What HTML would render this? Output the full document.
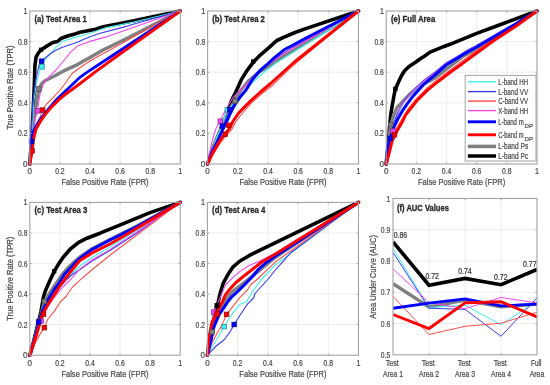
<!DOCTYPE html><html><head><meta charset="utf-8"><style>html,body{margin:0;padding:0;background:#fff;}svg{display:block;filter:blur(0.3px);font-family:"Liberation Sans",sans-serif;}</style></head><body>
<svg width="550" height="385" viewBox="0 0 550 385">
<rect width="550" height="385" fill="#fff"/><line x1="59.90" y1="11.0" x2="59.90" y2="164.0" stroke="#e9e9e9" stroke-width="0.8"/>
<line x1="29.8" y1="133.40" x2="180.3" y2="133.40" stroke="#e9e9e9" stroke-width="0.8"/>
<line x1="90.00" y1="11.0" x2="90.00" y2="164.0" stroke="#e9e9e9" stroke-width="0.8"/>
<line x1="29.8" y1="102.80" x2="180.3" y2="102.80" stroke="#e9e9e9" stroke-width="0.8"/>
<line x1="120.10" y1="11.0" x2="120.10" y2="164.0" stroke="#e9e9e9" stroke-width="0.8"/>
<line x1="29.8" y1="72.20" x2="180.3" y2="72.20" stroke="#e9e9e9" stroke-width="0.8"/>
<line x1="150.20" y1="11.0" x2="150.20" y2="164.0" stroke="#e9e9e9" stroke-width="0.8"/>
<line x1="29.8" y1="41.60" x2="180.3" y2="41.60" stroke="#e9e9e9" stroke-width="0.8"/>
<text x="29.80" y="174.30" font-size="8.5" font-weight="400" fill="#4a4a4a" stroke="#4a4a4a" stroke-width="0.22" text-anchor="middle" textLength="4.5" lengthAdjust="spacingAndGlyphs">0</text>
<text x="27.50" y="167.00" font-size="8.5" font-weight="400" fill="#4a4a4a" stroke="#4a4a4a" stroke-width="0.22" text-anchor="end" textLength="4.5" lengthAdjust="spacingAndGlyphs">0</text>
<text x="59.90" y="174.30" font-size="8.5" font-weight="400" fill="#4a4a4a" stroke="#4a4a4a" stroke-width="0.22" text-anchor="middle" textLength="9.5" lengthAdjust="spacingAndGlyphs">0.2</text>
<text x="27.50" y="136.40" font-size="8.5" font-weight="400" fill="#4a4a4a" stroke="#4a4a4a" stroke-width="0.22" text-anchor="end" textLength="9.5" lengthAdjust="spacingAndGlyphs">0.2</text>
<text x="90.00" y="174.30" font-size="8.5" font-weight="400" fill="#4a4a4a" stroke="#4a4a4a" stroke-width="0.22" text-anchor="middle" textLength="9.5" lengthAdjust="spacingAndGlyphs">0.4</text>
<text x="27.50" y="105.80" font-size="8.5" font-weight="400" fill="#4a4a4a" stroke="#4a4a4a" stroke-width="0.22" text-anchor="end" textLength="9.5" lengthAdjust="spacingAndGlyphs">0.4</text>
<text x="120.10" y="174.30" font-size="8.5" font-weight="400" fill="#4a4a4a" stroke="#4a4a4a" stroke-width="0.22" text-anchor="middle" textLength="9.5" lengthAdjust="spacingAndGlyphs">0.6</text>
<text x="27.50" y="75.20" font-size="8.5" font-weight="400" fill="#4a4a4a" stroke="#4a4a4a" stroke-width="0.22" text-anchor="end" textLength="9.5" lengthAdjust="spacingAndGlyphs">0.6</text>
<text x="150.20" y="174.30" font-size="8.5" font-weight="400" fill="#4a4a4a" stroke="#4a4a4a" stroke-width="0.22" text-anchor="middle" textLength="9.5" lengthAdjust="spacingAndGlyphs">0.8</text>
<text x="27.50" y="44.60" font-size="8.5" font-weight="400" fill="#4a4a4a" stroke="#4a4a4a" stroke-width="0.22" text-anchor="end" textLength="9.5" lengthAdjust="spacingAndGlyphs">0.8</text>
<text x="180.30" y="174.30" font-size="8.5" font-weight="400" fill="#4a4a4a" stroke="#4a4a4a" stroke-width="0.22" text-anchor="middle" textLength="4.0" lengthAdjust="spacingAndGlyphs">1</text>
<text x="27.50" y="14.00" font-size="8.5" font-weight="400" fill="#4a4a4a" stroke="#4a4a4a" stroke-width="0.22" text-anchor="end" textLength="4.0" lengthAdjust="spacingAndGlyphs">1</text>
<text x="34.50" y="21.80" font-size="9.1" font-weight="700" fill="#262626" stroke="#262626" stroke-width="0.3" text-anchor="start" textLength="52.3" lengthAdjust="spacingAndGlyphs">(a) Test Area 1</text>
<text x="105.05" y="185.20" font-size="8.7" font-weight="400" fill="#4a4a4a" stroke="#4a4a4a" stroke-width="0.22" text-anchor="middle" textLength="87.2" lengthAdjust="spacingAndGlyphs">False Positive Rate (FPR)</text>
<text x="12.9" y="87.50" font-size="8.7" font-weight="400" fill="#4a4a4a" stroke="#4a4a4a" stroke-width="0.22" text-anchor="middle" textLength="84.1" lengthAdjust="spacingAndGlyphs" transform="rotate(-90 12.9 87.50)">True Positive Rate (TPR)</text>
<line x1="237.78" y1="11.0" x2="237.78" y2="164.0" stroke="#e9e9e9" stroke-width="0.8"/>
<line x1="207.6" y1="133.40" x2="358.5" y2="133.40" stroke="#e9e9e9" stroke-width="0.8"/>
<line x1="267.96" y1="11.0" x2="267.96" y2="164.0" stroke="#e9e9e9" stroke-width="0.8"/>
<line x1="207.6" y1="102.80" x2="358.5" y2="102.80" stroke="#e9e9e9" stroke-width="0.8"/>
<line x1="298.14" y1="11.0" x2="298.14" y2="164.0" stroke="#e9e9e9" stroke-width="0.8"/>
<line x1="207.6" y1="72.20" x2="358.5" y2="72.20" stroke="#e9e9e9" stroke-width="0.8"/>
<line x1="328.32" y1="11.0" x2="328.32" y2="164.0" stroke="#e9e9e9" stroke-width="0.8"/>
<line x1="207.6" y1="41.60" x2="358.5" y2="41.60" stroke="#e9e9e9" stroke-width="0.8"/>
<text x="207.60" y="174.30" font-size="8.5" font-weight="400" fill="#4a4a4a" stroke="#4a4a4a" stroke-width="0.22" text-anchor="middle" textLength="4.5" lengthAdjust="spacingAndGlyphs">0</text>
<text x="205.30" y="167.00" font-size="8.5" font-weight="400" fill="#4a4a4a" stroke="#4a4a4a" stroke-width="0.22" text-anchor="end" textLength="4.5" lengthAdjust="spacingAndGlyphs">0</text>
<text x="237.78" y="174.30" font-size="8.5" font-weight="400" fill="#4a4a4a" stroke="#4a4a4a" stroke-width="0.22" text-anchor="middle" textLength="9.5" lengthAdjust="spacingAndGlyphs">0.2</text>
<text x="205.30" y="136.40" font-size="8.5" font-weight="400" fill="#4a4a4a" stroke="#4a4a4a" stroke-width="0.22" text-anchor="end" textLength="9.5" lengthAdjust="spacingAndGlyphs">0.2</text>
<text x="267.96" y="174.30" font-size="8.5" font-weight="400" fill="#4a4a4a" stroke="#4a4a4a" stroke-width="0.22" text-anchor="middle" textLength="9.5" lengthAdjust="spacingAndGlyphs">0.4</text>
<text x="205.30" y="105.80" font-size="8.5" font-weight="400" fill="#4a4a4a" stroke="#4a4a4a" stroke-width="0.22" text-anchor="end" textLength="9.5" lengthAdjust="spacingAndGlyphs">0.4</text>
<text x="298.14" y="174.30" font-size="8.5" font-weight="400" fill="#4a4a4a" stroke="#4a4a4a" stroke-width="0.22" text-anchor="middle" textLength="9.5" lengthAdjust="spacingAndGlyphs">0.6</text>
<text x="205.30" y="75.20" font-size="8.5" font-weight="400" fill="#4a4a4a" stroke="#4a4a4a" stroke-width="0.22" text-anchor="end" textLength="9.5" lengthAdjust="spacingAndGlyphs">0.6</text>
<text x="328.32" y="174.30" font-size="8.5" font-weight="400" fill="#4a4a4a" stroke="#4a4a4a" stroke-width="0.22" text-anchor="middle" textLength="9.5" lengthAdjust="spacingAndGlyphs">0.8</text>
<text x="205.30" y="44.60" font-size="8.5" font-weight="400" fill="#4a4a4a" stroke="#4a4a4a" stroke-width="0.22" text-anchor="end" textLength="9.5" lengthAdjust="spacingAndGlyphs">0.8</text>
<text x="358.50" y="174.30" font-size="8.5" font-weight="400" fill="#4a4a4a" stroke="#4a4a4a" stroke-width="0.22" text-anchor="middle" textLength="4.0" lengthAdjust="spacingAndGlyphs">1</text>
<text x="205.30" y="14.00" font-size="8.5" font-weight="400" fill="#4a4a4a" stroke="#4a4a4a" stroke-width="0.22" text-anchor="end" textLength="4.0" lengthAdjust="spacingAndGlyphs">1</text>
<text x="212.30" y="21.80" font-size="9.1" font-weight="700" fill="#262626" stroke="#262626" stroke-width="0.3" text-anchor="start" textLength="52.6" lengthAdjust="spacingAndGlyphs">(b) Test Area 2</text>
<text x="283.05" y="185.20" font-size="8.7" font-weight="400" fill="#4a4a4a" stroke="#4a4a4a" stroke-width="0.22" text-anchor="middle" textLength="87.2" lengthAdjust="spacingAndGlyphs">False Positive Rate (FPR)</text>
<line x1="416.36" y1="11.0" x2="416.36" y2="164.0" stroke="#e9e9e9" stroke-width="0.8"/>
<line x1="386.2" y1="133.40" x2="537.0" y2="133.40" stroke="#e9e9e9" stroke-width="0.8"/>
<line x1="446.52" y1="11.0" x2="446.52" y2="164.0" stroke="#e9e9e9" stroke-width="0.8"/>
<line x1="386.2" y1="102.80" x2="537.0" y2="102.80" stroke="#e9e9e9" stroke-width="0.8"/>
<line x1="476.68" y1="11.0" x2="476.68" y2="164.0" stroke="#e9e9e9" stroke-width="0.8"/>
<line x1="386.2" y1="72.20" x2="537.0" y2="72.20" stroke="#e9e9e9" stroke-width="0.8"/>
<line x1="506.84" y1="11.0" x2="506.84" y2="164.0" stroke="#e9e9e9" stroke-width="0.8"/>
<line x1="386.2" y1="41.60" x2="537.0" y2="41.60" stroke="#e9e9e9" stroke-width="0.8"/>
<text x="386.20" y="174.30" font-size="8.5" font-weight="400" fill="#4a4a4a" stroke="#4a4a4a" stroke-width="0.22" text-anchor="middle" textLength="4.5" lengthAdjust="spacingAndGlyphs">0</text>
<text x="383.90" y="167.00" font-size="8.5" font-weight="400" fill="#4a4a4a" stroke="#4a4a4a" stroke-width="0.22" text-anchor="end" textLength="4.5" lengthAdjust="spacingAndGlyphs">0</text>
<text x="416.36" y="174.30" font-size="8.5" font-weight="400" fill="#4a4a4a" stroke="#4a4a4a" stroke-width="0.22" text-anchor="middle" textLength="9.5" lengthAdjust="spacingAndGlyphs">0.2</text>
<text x="383.90" y="136.40" font-size="8.5" font-weight="400" fill="#4a4a4a" stroke="#4a4a4a" stroke-width="0.22" text-anchor="end" textLength="9.5" lengthAdjust="spacingAndGlyphs">0.2</text>
<text x="446.52" y="174.30" font-size="8.5" font-weight="400" fill="#4a4a4a" stroke="#4a4a4a" stroke-width="0.22" text-anchor="middle" textLength="9.5" lengthAdjust="spacingAndGlyphs">0.4</text>
<text x="383.90" y="105.80" font-size="8.5" font-weight="400" fill="#4a4a4a" stroke="#4a4a4a" stroke-width="0.22" text-anchor="end" textLength="9.5" lengthAdjust="spacingAndGlyphs">0.4</text>
<text x="476.68" y="174.30" font-size="8.5" font-weight="400" fill="#4a4a4a" stroke="#4a4a4a" stroke-width="0.22" text-anchor="middle" textLength="9.5" lengthAdjust="spacingAndGlyphs">0.6</text>
<text x="383.90" y="75.20" font-size="8.5" font-weight="400" fill="#4a4a4a" stroke="#4a4a4a" stroke-width="0.22" text-anchor="end" textLength="9.5" lengthAdjust="spacingAndGlyphs">0.6</text>
<text x="506.84" y="174.30" font-size="8.5" font-weight="400" fill="#4a4a4a" stroke="#4a4a4a" stroke-width="0.22" text-anchor="middle" textLength="9.5" lengthAdjust="spacingAndGlyphs">0.8</text>
<text x="383.90" y="44.60" font-size="8.5" font-weight="400" fill="#4a4a4a" stroke="#4a4a4a" stroke-width="0.22" text-anchor="end" textLength="9.5" lengthAdjust="spacingAndGlyphs">0.8</text>
<text x="537.00" y="174.30" font-size="8.5" font-weight="400" fill="#4a4a4a" stroke="#4a4a4a" stroke-width="0.22" text-anchor="middle" textLength="4.0" lengthAdjust="spacingAndGlyphs">1</text>
<text x="383.90" y="14.00" font-size="8.5" font-weight="400" fill="#4a4a4a" stroke="#4a4a4a" stroke-width="0.22" text-anchor="end" textLength="4.0" lengthAdjust="spacingAndGlyphs">1</text>
<text x="390.90" y="21.80" font-size="9.1" font-weight="700" fill="#262626" stroke="#262626" stroke-width="0.3" text-anchor="start" textLength="44.3" lengthAdjust="spacingAndGlyphs">(e) Full Area</text>
<text x="461.60" y="185.20" font-size="8.7" font-weight="400" fill="#4a4a4a" stroke="#4a4a4a" stroke-width="0.22" text-anchor="middle" textLength="87.2" lengthAdjust="spacingAndGlyphs">False Positive Rate (FPR)</text>
<line x1="59.88" y1="202.4" x2="59.88" y2="355.2" stroke="#e9e9e9" stroke-width="0.8"/>
<line x1="29.8" y1="324.64" x2="180.2" y2="324.64" stroke="#e9e9e9" stroke-width="0.8"/>
<line x1="89.96" y1="202.4" x2="89.96" y2="355.2" stroke="#e9e9e9" stroke-width="0.8"/>
<line x1="29.8" y1="294.08" x2="180.2" y2="294.08" stroke="#e9e9e9" stroke-width="0.8"/>
<line x1="120.04" y1="202.4" x2="120.04" y2="355.2" stroke="#e9e9e9" stroke-width="0.8"/>
<line x1="29.8" y1="263.52" x2="180.2" y2="263.52" stroke="#e9e9e9" stroke-width="0.8"/>
<line x1="150.12" y1="202.4" x2="150.12" y2="355.2" stroke="#e9e9e9" stroke-width="0.8"/>
<line x1="29.8" y1="232.96" x2="180.2" y2="232.96" stroke="#e9e9e9" stroke-width="0.8"/>
<text x="29.80" y="365.50" font-size="8.5" font-weight="400" fill="#4a4a4a" stroke="#4a4a4a" stroke-width="0.22" text-anchor="middle" textLength="4.5" lengthAdjust="spacingAndGlyphs">0</text>
<text x="27.50" y="358.20" font-size="8.5" font-weight="400" fill="#4a4a4a" stroke="#4a4a4a" stroke-width="0.22" text-anchor="end" textLength="4.5" lengthAdjust="spacingAndGlyphs">0</text>
<text x="59.88" y="365.50" font-size="8.5" font-weight="400" fill="#4a4a4a" stroke="#4a4a4a" stroke-width="0.22" text-anchor="middle" textLength="9.5" lengthAdjust="spacingAndGlyphs">0.2</text>
<text x="27.50" y="327.64" font-size="8.5" font-weight="400" fill="#4a4a4a" stroke="#4a4a4a" stroke-width="0.22" text-anchor="end" textLength="9.5" lengthAdjust="spacingAndGlyphs">0.2</text>
<text x="89.96" y="365.50" font-size="8.5" font-weight="400" fill="#4a4a4a" stroke="#4a4a4a" stroke-width="0.22" text-anchor="middle" textLength="9.5" lengthAdjust="spacingAndGlyphs">0.4</text>
<text x="27.50" y="297.08" font-size="8.5" font-weight="400" fill="#4a4a4a" stroke="#4a4a4a" stroke-width="0.22" text-anchor="end" textLength="9.5" lengthAdjust="spacingAndGlyphs">0.4</text>
<text x="120.04" y="365.50" font-size="8.5" font-weight="400" fill="#4a4a4a" stroke="#4a4a4a" stroke-width="0.22" text-anchor="middle" textLength="9.5" lengthAdjust="spacingAndGlyphs">0.6</text>
<text x="27.50" y="266.52" font-size="8.5" font-weight="400" fill="#4a4a4a" stroke="#4a4a4a" stroke-width="0.22" text-anchor="end" textLength="9.5" lengthAdjust="spacingAndGlyphs">0.6</text>
<text x="150.12" y="365.50" font-size="8.5" font-weight="400" fill="#4a4a4a" stroke="#4a4a4a" stroke-width="0.22" text-anchor="middle" textLength="9.5" lengthAdjust="spacingAndGlyphs">0.8</text>
<text x="27.50" y="235.96" font-size="8.5" font-weight="400" fill="#4a4a4a" stroke="#4a4a4a" stroke-width="0.22" text-anchor="end" textLength="9.5" lengthAdjust="spacingAndGlyphs">0.8</text>
<text x="180.20" y="365.50" font-size="8.5" font-weight="400" fill="#4a4a4a" stroke="#4a4a4a" stroke-width="0.22" text-anchor="middle" textLength="4.0" lengthAdjust="spacingAndGlyphs">1</text>
<text x="27.50" y="205.40" font-size="8.5" font-weight="400" fill="#4a4a4a" stroke="#4a4a4a" stroke-width="0.22" text-anchor="end" textLength="4.0" lengthAdjust="spacingAndGlyphs">1</text>
<text x="34.50" y="213.20" font-size="9.1" font-weight="700" fill="#262626" stroke="#262626" stroke-width="0.3" text-anchor="start" textLength="52.8" lengthAdjust="spacingAndGlyphs">(c) Test Area 3</text>
<text x="105.00" y="377.20" font-size="8.7" font-weight="400" fill="#4a4a4a" stroke="#4a4a4a" stroke-width="0.22" text-anchor="middle" textLength="87.2" lengthAdjust="spacingAndGlyphs">False Positive Rate (FPR)</text>
<text x="12.9" y="278.80" font-size="8.7" font-weight="400" fill="#4a4a4a" stroke="#4a4a4a" stroke-width="0.22" text-anchor="middle" textLength="84.1" lengthAdjust="spacingAndGlyphs" transform="rotate(-90 12.9 278.80)">True Positive Rate (TPR)</text>
<line x1="237.62" y1="202.4" x2="237.62" y2="355.2" stroke="#e9e9e9" stroke-width="0.8"/>
<line x1="207.4" y1="324.64" x2="358.5" y2="324.64" stroke="#e9e9e9" stroke-width="0.8"/>
<line x1="267.84" y1="202.4" x2="267.84" y2="355.2" stroke="#e9e9e9" stroke-width="0.8"/>
<line x1="207.4" y1="294.08" x2="358.5" y2="294.08" stroke="#e9e9e9" stroke-width="0.8"/>
<line x1="298.06" y1="202.4" x2="298.06" y2="355.2" stroke="#e9e9e9" stroke-width="0.8"/>
<line x1="207.4" y1="263.52" x2="358.5" y2="263.52" stroke="#e9e9e9" stroke-width="0.8"/>
<line x1="328.28" y1="202.4" x2="328.28" y2="355.2" stroke="#e9e9e9" stroke-width="0.8"/>
<line x1="207.4" y1="232.96" x2="358.5" y2="232.96" stroke="#e9e9e9" stroke-width="0.8"/>
<text x="207.40" y="365.50" font-size="8.5" font-weight="400" fill="#4a4a4a" stroke="#4a4a4a" stroke-width="0.22" text-anchor="middle" textLength="4.5" lengthAdjust="spacingAndGlyphs">0</text>
<text x="205.10" y="358.20" font-size="8.5" font-weight="400" fill="#4a4a4a" stroke="#4a4a4a" stroke-width="0.22" text-anchor="end" textLength="4.5" lengthAdjust="spacingAndGlyphs">0</text>
<text x="237.62" y="365.50" font-size="8.5" font-weight="400" fill="#4a4a4a" stroke="#4a4a4a" stroke-width="0.22" text-anchor="middle" textLength="9.5" lengthAdjust="spacingAndGlyphs">0.2</text>
<text x="205.10" y="327.64" font-size="8.5" font-weight="400" fill="#4a4a4a" stroke="#4a4a4a" stroke-width="0.22" text-anchor="end" textLength="9.5" lengthAdjust="spacingAndGlyphs">0.2</text>
<text x="267.84" y="365.50" font-size="8.5" font-weight="400" fill="#4a4a4a" stroke="#4a4a4a" stroke-width="0.22" text-anchor="middle" textLength="9.5" lengthAdjust="spacingAndGlyphs">0.4</text>
<text x="205.10" y="297.08" font-size="8.5" font-weight="400" fill="#4a4a4a" stroke="#4a4a4a" stroke-width="0.22" text-anchor="end" textLength="9.5" lengthAdjust="spacingAndGlyphs">0.4</text>
<text x="298.06" y="365.50" font-size="8.5" font-weight="400" fill="#4a4a4a" stroke="#4a4a4a" stroke-width="0.22" text-anchor="middle" textLength="9.5" lengthAdjust="spacingAndGlyphs">0.6</text>
<text x="205.10" y="266.52" font-size="8.5" font-weight="400" fill="#4a4a4a" stroke="#4a4a4a" stroke-width="0.22" text-anchor="end" textLength="9.5" lengthAdjust="spacingAndGlyphs">0.6</text>
<text x="328.28" y="365.50" font-size="8.5" font-weight="400" fill="#4a4a4a" stroke="#4a4a4a" stroke-width="0.22" text-anchor="middle" textLength="9.5" lengthAdjust="spacingAndGlyphs">0.8</text>
<text x="205.10" y="235.96" font-size="8.5" font-weight="400" fill="#4a4a4a" stroke="#4a4a4a" stroke-width="0.22" text-anchor="end" textLength="9.5" lengthAdjust="spacingAndGlyphs">0.8</text>
<text x="358.50" y="365.50" font-size="8.5" font-weight="400" fill="#4a4a4a" stroke="#4a4a4a" stroke-width="0.22" text-anchor="middle" textLength="4.0" lengthAdjust="spacingAndGlyphs">1</text>
<text x="205.10" y="205.40" font-size="8.5" font-weight="400" fill="#4a4a4a" stroke="#4a4a4a" stroke-width="0.22" text-anchor="end" textLength="4.0" lengthAdjust="spacingAndGlyphs">1</text>
<text x="212.10" y="213.20" font-size="9.1" font-weight="700" fill="#262626" stroke="#262626" stroke-width="0.3" text-anchor="start" textLength="53.3" lengthAdjust="spacingAndGlyphs">(d) Test Area 4</text>
<text x="282.95" y="377.20" font-size="8.7" font-weight="400" fill="#4a4a4a" stroke="#4a4a4a" stroke-width="0.22" text-anchor="middle" textLength="87.2" lengthAdjust="spacingAndGlyphs">False Positive Rate (FPR)</text>
<clipPath id="clipa"><rect x="27.3" y="8.5" width="155.50" height="158.00"/></clipPath>
<g clip-path="url(#clipa)" fill="none" stroke-linejoin="round" stroke-linecap="round">
<polyline points="29.8,164.0 31.5,140.0 33.2,110.0 34.3,86.0 34.9,66.0 36.1,57.0 38.6,52.6 41.1,49.8 45.5,46.9 52.8,42.5 57.5,41.5 61.4,38.2 68.4,35.8 75.0,33.9 80.0,32.3 95.6,29.2 103.4,26.7 120.0,23.4 135.0,20.6 180.3,11.0" stroke="#000000" stroke-width="3.6"/>
<polyline points="29.8,164.0 33.0,125.0 37.1,99.0 38.9,89.0 41.5,84.0 44.9,80.8 55.0,75.8 65.4,70.1 75.8,65.4 86.2,59.5 90.0,57.5 103.0,50.0 121.7,41.0 138.0,32.7 180.3,11.0" stroke="#7f7f7f" stroke-width="3.4"/>
<polyline points="29.8,164.0 32.0,130.0 34.0,100.0 36.0,85.0 38.5,74.0 40.3,69.1 42.0,66.8 44.9,60.0 50.3,54.0 55.5,47.8 62.0,41.8 70.8,38.6 78.0,36.5 90.3,33.3 106.2,27.6 135.0,21.7 180.3,11.0" stroke="#3ef2f2" stroke-width="1.1"/>
<polyline points="29.8,164.0 31.5,130.0 33.0,100.0 35.8,80.0 39.0,65.0 41.6,61.2 47.5,56.0 50.0,54.0 55.3,50.5 61.8,47.5 70.0,44.7 78.0,42.0 82.8,39.8 90.0,36.8 98.4,33.8 121.7,27.6 135.0,23.7 180.3,11.0" stroke="#3c3cf0" stroke-width="1.1"/>
<polyline points="29.8,164.0 33.0,145.0 36.0,130.0 38.4,121.2 42.5,110.8 46.2,104.5 52.9,97.8 60.0,90.0 65.4,83.0 71.6,74.0 78.0,69.0 86.0,63.5 90.0,61.0 106.0,52.0 121.7,43.5 138.0,34.2 180.3,11.0" stroke="#ff4d4d" stroke-width="1.1"/>
<polyline points="29.8,164.0 31.5,145.0 33.2,130.0 35.0,120.0 37.4,110.8 39.0,100.0 40.5,92.0 43.6,83.4 47.0,79.0 51.4,74.3 56.0,70.0 65.6,58.5 70.8,51.8 77.5,46.1 90.0,41.4 106.2,36.9 121.7,31.5 135.0,26.8 180.3,11.0" stroke="#f046f0" stroke-width="1.1"/>
<polyline points="29.8,164.0 31.5,141.4 33.0,132.0 36.0,126.0 40.0,119.5 45.5,112.5 51.9,105.0 56.0,100.0 61.2,95.0 70.6,86.2 79.9,77.3 87.2,72.1 95.0,67.0 180.3,11.0" stroke="#0000ff" stroke-width="2.7"/>
<polyline points="29.8,164.0 32.3,149.3 33.5,139.0 36.0,129.0 40.5,121.2 45.7,113.9 51.9,106.6 59.2,99.4 64.4,95.0 75.8,86.7 86.2,78.9 95.0,72.1 114.0,58.3 135.0,43.4 180.3,11.0" stroke="#ff0000" stroke-width="3.0"/>
</g>
<rect x="39.3" y="48.0" width="3.6" height="3.6" fill="#000000" stroke="#000000" stroke-width="0.7"/>
<rect x="36.6" y="86.7" width="4.6" height="4.6" fill="#7f7f7f" stroke="#454545" stroke-width="0.7"/>
<rect x="39.7" y="64.5" width="4.6" height="4.6" fill="#3ef2f2" stroke="#228585" stroke-width="0.7"/>
<rect x="39.3" y="58.9" width="4.6" height="4.6" fill="#0000ff" stroke="#00008c" stroke-width="0.7"/>
<rect x="35.2" y="108.5" width="4.6" height="4.6" fill="#f046f0" stroke="#842684" stroke-width="0.7"/>
<rect x="29.2" y="139.1" width="4.6" height="4.6" fill="#0000ff" stroke="#00008c" stroke-width="0.7"/>
<rect x="29.7" y="148.6" width="4.6" height="4.6" fill="#ff0000" stroke="#8c0000" stroke-width="0.7"/>
<rect x="40.3" y="107.8" width="4.6" height="4.6" fill="#ff0000" stroke="#8c0000" stroke-width="0.7"/>
<rect x="29.8" y="11.0" width="150.50" height="153.00" fill="none" stroke="#a3a3a3" stroke-width="1.1"/>
<path d="M59.90 164.0v-1.6M59.90 11.0v1.6M90.00 164.0v-1.6M90.00 11.0v1.6M120.10 164.0v-1.6M120.10 11.0v1.6M150.20 164.0v-1.6M150.20 11.0v1.6M29.8 133.40h1.6M180.3 133.40h-1.6M29.8 102.80h1.6M180.3 102.80h-1.6M29.8 72.20h1.6M180.3 72.20h-1.6M29.8 41.60h1.6M180.3 41.60h-1.6" stroke="#a3a3a3" stroke-width="1" fill="none"/>
<clipPath id="clipb"><rect x="205.1" y="8.5" width="155.90" height="158.00"/></clipPath>
<g clip-path="url(#clipb)" fill="none" stroke-linejoin="round" stroke-linecap="round">
<polyline points="207.6,164.0 211.0,154.0 215.5,142.0 220.5,130.0 224.5,120.0 226.2,116.0 228.5,110.0 230.4,103.5 233.0,97.5 235.8,92.0 241.2,79.9 247.5,69.8 253.2,62.3 260.5,54.8 269.5,47.1 276.8,40.5 284.1,37.1 295.0,32.5 305.0,28.9 358.5,11.0" stroke="#000000" stroke-width="3.6"/>
<polyline points="207.6,164.0 212.0,150.0 218.0,136.0 224.0,122.0 229.0,111.0 234.6,101.2 241.0,90.0 248.6,80.9 258.6,72.5 276.8,60.7 305.0,43.5 358.5,11.0" stroke="#7f7f7f" stroke-width="3.4"/>
<polyline points="207.6,164.0 211.0,154.0 215.0,142.0 219.5,131.0 223.5,120.0 227.3,109.7 234.0,103.5 240.0,96.5 246.0,90.5 252.0,83.0 258.6,77.0 266.8,70.0 276.8,62.5 305.0,45.0 358.5,11.0" stroke="#3ef2f2" stroke-width="1.1"/>
<polyline points="207.6,164.0 212.0,151.0 217.0,141.0 221.5,131.0 225.5,120.0 229.9,109.7 235.0,103.0 240.5,96.0 246.0,89.5 252.5,79.5 259.5,71.0 266.0,65.8 277.0,57.5 295.0,46.0 358.5,11.0" stroke="#3c3cf0" stroke-width="1.1"/>
<polyline points="207.6,164.0 211.0,158.0 215.0,151.5 220.0,143.5 225.0,137.0 231.4,130.0 236.6,120.5 241.8,114.0 251.2,103.2 260.0,95.4 272.3,85.5 288.6,69.5 298.0,61.3 358.5,11.0" stroke="#ff4d4d" stroke-width="1.1"/>
<polyline points="207.6,164.0 209.0,154.6 212.0,141.5 215.6,129.6 219.7,121.5 226.2,108.7 232.5,98.3 240.8,89.5 243.2,87.0 251.4,80.0 264.1,67.0 276.8,58.5 289.5,50.0 305.0,41.5 358.5,11.0" stroke="#f046f0" stroke-width="1.1"/>
<polyline points="207.6,164.0 208.4,160.6 213.2,149.9 217.9,140.3 222.1,131.0 227.3,120.1 231.4,110.8 235.6,103.5 240.8,96.2 246.0,90.0 252.5,79.5 259.5,71.0 265.9,65.5 275.0,57.1 284.1,49.8 295.0,44.0 305.0,38.5 358.5,11.0" stroke="#0000ff" stroke-width="3.0"/>
<polyline points="207.6,164.0 209.6,159.4 213.2,152.2 217.9,143.9 222.7,136.7 228.8,129.5 233.5,120.5 238.7,113.0 244.9,106.6 251.2,100.4 260.0,92.5 270.5,83.5 295.0,61.5 358.5,11.0" stroke="#ff0000" stroke-width="3.0"/>
</g>
<rect x="251.4" y="59.8" width="3.6" height="3.6" fill="#000000" stroke="#000000" stroke-width="0.7"/>
<rect x="232.7" y="98.7" width="4.6" height="4.6" fill="#7f7f7f" stroke="#454545" stroke-width="0.7"/>
<rect x="225.0" y="107.4" width="4.6" height="4.6" fill="#3ef2f2" stroke="#228585" stroke-width="0.7"/>
<rect x="227.6" y="107.4" width="4.6" height="4.6" fill="#0000ff" stroke="#00008c" stroke-width="0.7"/>
<rect x="218.0" y="118.9" width="4.6" height="4.6" fill="#f046f0" stroke="#842684" stroke-width="0.7"/>
<rect x="220.0" y="123.9" width="4.6" height="4.6" fill="#0000ff" stroke="#00008c" stroke-width="0.7"/>
<rect x="223.0" y="131.9" width="4.6" height="4.6" fill="#ff0000" stroke="#8c0000" stroke-width="0.7"/>
<rect x="226.5" y="123.0" width="4.6" height="4.6" fill="#ff0000" stroke="#8c0000" stroke-width="0.7"/>
<rect x="207.6" y="11.0" width="150.90" height="153.00" fill="none" stroke="#a3a3a3" stroke-width="1.1"/>
<path d="M237.78 164.0v-1.6M237.78 11.0v1.6M267.96 164.0v-1.6M267.96 11.0v1.6M298.14 164.0v-1.6M298.14 11.0v1.6M328.32 164.0v-1.6M328.32 11.0v1.6M207.6 133.40h1.6M358.5 133.40h-1.6M207.6 102.80h1.6M358.5 102.80h-1.6M207.6 72.20h1.6M358.5 72.20h-1.6M207.6 41.60h1.6M358.5 41.60h-1.6" stroke="#a3a3a3" stroke-width="1" fill="none"/>
<clipPath id="clipe"><rect x="383.7" y="8.5" width="155.80" height="158.00"/></clipPath>
<g clip-path="url(#clipe)" fill="none" stroke-linejoin="round" stroke-linecap="round">
<polyline points="386.2,164.0 387.2,153.6 388.6,139.1 389.8,124.5 390.7,115.0 392.3,105.0 393.8,96.7 395.4,88.9 397.6,84.0 401.2,76.2 404.4,71.0 409.0,66.5 415.5,62.3 420.0,59.0 424.7,56.0 430.1,52.1 435.6,49.8 443.4,46.7 450.0,44.3 476.7,33.4 500.0,24.8 537.0,11.0" stroke="#000000" stroke-width="3.6"/>
<polyline points="386.2,164.0 388.0,145.1 390.8,124.9 393.7,115.1 397.0,107.6 400.6,104.0 410.0,94.0 420.0,86.0 435.0,78.0 462.3,56.8 490.0,41.0 537.0,11.0" stroke="#7f7f7f" stroke-width="3.4"/>
<polyline points="386.2,164.0 388.5,150.0 391.0,136.0 393.5,126.0 395.2,120.5 399.5,111.5 403.7,102.7 413.0,91.7 423.9,81.7 434.8,73.7 446.4,64.0 456.8,58.0 467.2,51.5 475.9,47.0 503.2,31.0 537.0,11.0" stroke="#3ef2f2" stroke-width="1.1"/>
<polyline points="386.2,164.0 388.0,150.0 390.5,136.0 393.5,124.0 397.0,113.8 400.0,107.7 403.7,101.2 413.0,90.2 423.9,80.2 434.8,72.2 446.4,62.8 456.8,56.8 467.2,50.3 475.9,45.8 503.2,30.0 537.0,11.0" stroke="#3c3cf0" stroke-width="1.1"/>
<polyline points="386.2,164.0 389.0,150.0 392.0,138.0 396.0,129.0 402.0,119.0 409.0,107.8 416.8,98.3 427.2,87.9 436.0,80.6 445.0,74.0 462.0,61.3 476.0,51.0 495.0,37.3 515.8,24.3 537.0,11.0" stroke="#ff4d4d" stroke-width="1.1"/>
<polyline points="386.2,164.0 388.0,152.0 390.5,140.0 393.0,131.1 397.0,117.8 400.0,107.7 403.7,102.2 413.0,91.2 423.9,81.2 434.8,73.2 446.4,63.5 456.8,57.5 467.2,51.0 475.9,46.5 503.2,30.5 537.0,11.0" stroke="#f046f0" stroke-width="1.1"/>
<polyline points="386.2,164.0 387.9,146.4 390.1,138.4 393.7,127.5 398.1,118.4 402.5,110.7 407.0,104.2 413.0,96.2 423.9,84.2 434.8,75.2 446.4,64.8 456.8,58.5 467.2,52.2 475.9,47.5 503.2,31.5 537.0,11.0" stroke="#0000ff" stroke-width="3.0"/>
<polyline points="386.2,164.0 389.4,152.2 392.3,140.5 396.6,131.8 402.5,121.6 405.5,115.0 409.5,110.0 416.8,100.8 427.2,90.4 436.0,83.1 440.2,80.0 451.6,71.2 462.0,63.9 476.0,53.5 495.0,39.8 515.8,26.3 537.0,11.0" stroke="#ff0000" stroke-width="3.0"/>
</g>
<rect x="393.6" y="87.1" width="3.6" height="3.6" fill="#000000" stroke="#000000" stroke-width="0.7"/>
<rect x="388.5" y="122.2" width="4.6" height="4.6" fill="#7f7f7f" stroke="#454545" stroke-width="0.7"/>
<rect x="390.7" y="128.8" width="4.6" height="4.6" fill="#f046f0" stroke="#842684" stroke-width="0.7"/>
<rect x="387.8" y="136.1" width="4.6" height="4.6" fill="#0000ff" stroke="#00008c" stroke-width="0.7"/>
<rect x="392.2" y="132.4" width="4.6" height="4.6" fill="#ff0000" stroke="#8c0000" stroke-width="0.7"/>
<rect x="386.2" y="11.0" width="150.80" height="153.00" fill="none" stroke="#a3a3a3" stroke-width="1.1"/>
<path d="M416.36 164.0v-1.6M416.36 11.0v1.6M446.52 164.0v-1.6M446.52 11.0v1.6M476.68 164.0v-1.6M476.68 11.0v1.6M506.84 164.0v-1.6M506.84 11.0v1.6M386.2 133.40h1.6M537.0 133.40h-1.6M386.2 102.80h1.6M537.0 102.80h-1.6M386.2 72.20h1.6M537.0 72.20h-1.6M386.2 41.60h1.6M537.0 41.60h-1.6" stroke="#a3a3a3" stroke-width="1" fill="none"/>
<clipPath id="clipc"><rect x="27.3" y="199.9" width="155.40" height="157.80"/></clipPath>
<g clip-path="url(#clipc)" fill="none" stroke-linejoin="round" stroke-linecap="round">
<polyline points="29.8,355.2 33.5,342.0 37.0,327.7 41.0,311.4 43.5,297.0 45.3,291.0 50.0,280.2 54.2,271.4 58.4,264.3 63.0,257.5 70.4,249.0 78.7,242.3 87.0,238.2 100.0,233.2 124.0,223.3 150.0,212.6 180.2,202.4" stroke="#000000" stroke-width="3.6"/>
<polyline points="29.8,355.2 33.8,342.5 38.8,322.8 42.3,310.0 44.2,301.9 49.0,294.0 53.0,288.0 57.5,281.5 62.5,274.0 66.0,270.0 74.5,261.5 80.0,257.0 91.7,249.0 110.0,239.5 137.0,226.0 180.2,202.4" stroke="#7f7f7f" stroke-width="3.4"/>
<polyline points="29.8,355.2 33.0,342.0 37.0,326.0 42.0,312.0 48.0,300.0 55.0,291.0 62.0,284.0 68.0,277.6 74.0,271.5 80.0,266.0 92.0,257.5 110.0,247.0 137.0,230.5 180.2,202.4" stroke="#3ef2f2" stroke-width="1.1"/>
<polyline points="29.8,355.2 33.0,342.0 37.0,328.0 42.0,314.0 48.0,302.0 55.0,293.0 60.0,287.0 66.7,279.5 73.0,274.0 80.0,269.5 92.0,261.0 110.0,250.5 137.0,233.0 180.2,202.4" stroke="#3c3cf0" stroke-width="1.1"/>
<polyline points="29.8,355.2 34.5,344.1 41.1,332.6 44.4,327.7 47.6,319.5 54.2,311.4 60.7,301.5 66.0,296.5 72.5,287.0 80.0,280.2 91.7,270.0 110.0,255.3 116.9,250.0 180.2,202.4" stroke="#ff4d4d" stroke-width="1.1"/>
<polyline points="29.8,355.2 33.0,343.0 37.0,329.0 41.1,321.2 47.0,308.0 53.8,298.0 62.8,287.0 71.2,278.9 80.0,269.0 92.0,260.0 110.0,249.4 137.0,232.0 180.2,202.4" stroke="#f046f0" stroke-width="1.1"/>
<polyline points="29.8,355.2 33.8,342.5 38.8,322.8 42.5,311.0 45.3,305.0 48.5,299.0 51.6,293.7 55.0,288.5 59.4,282.8 64.7,274.0 74.5,263.5 80.0,258.2 91.7,249.6 110.0,240.0 137.0,226.6 180.2,202.4" stroke="#0000ff" stroke-width="3.0"/>
<polyline points="29.8,355.2 31.3,350.6 36.2,335.9 39.5,324.5 42.7,313.8 47.7,305.0 51.5,299.0 55.5,292.9 58.5,288.0 62.0,283.0 68.0,275.0 77.7,263.0 80.0,260.5 91.7,253.2 110.0,244.0 124.0,236.0 180.2,202.4" stroke="#ff0000" stroke-width="3.0"/>
</g>
<rect x="52.4" y="269.6" width="3.6" height="3.6" fill="#000000" stroke="#000000" stroke-width="0.7"/>
<rect x="42.1" y="299.2" width="4.6" height="4.6" fill="#7f7f7f" stroke="#454545" stroke-width="0.7"/>
<rect x="42.1" y="325.4" width="4.6" height="4.6" fill="#ff0000" stroke="#8c0000" stroke-width="0.7"/>
<rect x="38.8" y="318.9" width="4.6" height="4.6" fill="#f046f0" stroke="#842684" stroke-width="0.7"/>
<rect x="36.3" y="319.7" width="4.6" height="4.6" fill="#0000ff" stroke="#00008c" stroke-width="0.7"/>
<rect x="41.2" y="312.0" width="4.6" height="4.6" fill="#ff0000" stroke="#8c0000" stroke-width="0.7"/>
<rect x="29.8" y="202.4" width="150.40" height="152.80" fill="none" stroke="#a3a3a3" stroke-width="1.1"/>
<path d="M59.88 355.2v-1.6M59.88 202.4v1.6M89.96 355.2v-1.6M89.96 202.4v1.6M120.04 355.2v-1.6M120.04 202.4v1.6M150.12 355.2v-1.6M150.12 202.4v1.6M29.8 324.64h1.6M180.2 324.64h-1.6M29.8 294.08h1.6M180.2 294.08h-1.6M29.8 263.52h1.6M180.2 263.52h-1.6M29.8 232.96h1.6M180.2 232.96h-1.6" stroke="#a3a3a3" stroke-width="1" fill="none"/>
<clipPath id="clipd"><rect x="204.9" y="199.9" width="156.10" height="157.80"/></clipPath>
<g clip-path="url(#clipd)" fill="none" stroke-linejoin="round" stroke-linecap="round">
<polyline points="207.4,355.2 209.5,345.0 212.1,332.4 214.7,313.0 217.0,305.5 218.2,302.0 220.5,292.0 223.4,282.8 228.6,273.4 232.8,267.2 240.0,261.0 249.1,255.7 255.0,252.7 358.5,202.4" stroke="#000000" stroke-width="3.6"/>
<polyline points="207.4,355.2 210.0,343.0 212.1,331.9 215.0,322.0 219.0,313.0 225.5,300.0 233.0,291.0 241.1,285.0 258.2,271.5 275.0,257.5 358.5,202.4" stroke="#7f7f7f" stroke-width="3.4"/>
<polyline points="207.4,355.2 208.5,351.8 215.6,341.2 224.1,326.7 231.5,314.7 240.3,304.1 246.3,302.0 251.8,293.0 260.9,280.0 275.0,265.0 358.5,202.4" stroke="#3ef2f2" stroke-width="1.1"/>
<polyline points="207.4,355.2 215.6,346.5 224.4,339.5 229.7,332.4 234.2,324.5 240.3,314.7 247.4,304.1 253.6,298.0 255.0,293.5 267.3,280.0 275.0,270.5 280.6,264.2 291.0,252.5 358.5,202.4" stroke="#3c3cf0" stroke-width="1.1"/>
<polyline points="207.4,355.2 208.5,350.0 215.6,336.0 222.7,323.6 226.6,314.4 233.3,305.9 240.3,297.1 247.4,290.0 250.5,284.7 256.4,280.0 275.0,262.3 358.5,202.4" stroke="#ff4d4d" stroke-width="1.1"/>
<polyline points="207.4,355.2 209.0,346.0 211.0,332.0 213.8,312.1 216.5,305.0 218.2,302.0 225.5,285.0 232.8,277.6 240.0,271.4 249.1,265.5 258.2,261.8 275.0,253.5 358.5,202.4" stroke="#f046f0" stroke-width="1.1"/>
<polyline points="207.4,355.2 210.3,343.0 213.8,327.1 219.1,314.7 224.4,306.8 227.6,302.0 231.5,297.1 238.0,291.1 245.8,283.5 252.0,277.0 258.2,269.5 265.0,263.5 275.0,256.3 358.5,202.4" stroke="#0000ff" stroke-width="3.0"/>
<polyline points="207.4,355.2 208.5,339.5 212.1,321.8 217.0,313.9 220.5,305.0 222.4,302.0 225.0,295.5 230.0,289.0 235.4,283.0 245.8,274.5 261.4,262.3 275.0,254.3 358.5,202.4" stroke="#ff0000" stroke-width="3.0"/>
</g>
<rect x="214.9" y="303.4" width="4.2" height="4.2" fill="#000000" stroke="#000000" stroke-width="0.7"/>
<rect x="209.8" y="329.6" width="4.6" height="4.6" fill="#7f7f7f" stroke="#454545" stroke-width="0.7"/>
<rect x="221.8" y="324.4" width="4.6" height="4.6" fill="#3ef2f2" stroke="#228585" stroke-width="0.7"/>
<rect x="231.9" y="322.2" width="4.6" height="4.6" fill="#0000ff" stroke="#00008c" stroke-width="0.7"/>
<rect x="224.3" y="312.1" width="4.6" height="4.6" fill="#ff0000" stroke="#8c0000" stroke-width="0.7"/>
<rect x="211.5" y="309.8" width="4.6" height="4.6" fill="#f046f0" stroke="#842684" stroke-width="0.7"/>
<rect x="214.7" y="311.6" width="4.6" height="4.6" fill="#ff0000" stroke="#8c0000" stroke-width="0.7"/>
<rect x="207.4" y="202.4" width="151.10" height="152.80" fill="none" stroke="#a3a3a3" stroke-width="1.1"/>
<path d="M237.62 355.2v-1.6M237.62 202.4v1.6M267.84 355.2v-1.6M267.84 202.4v1.6M298.06 355.2v-1.6M298.06 202.4v1.6M328.28 355.2v-1.6M328.28 202.4v1.6M207.4 324.64h1.6M358.5 324.64h-1.6M207.4 294.08h1.6M358.5 294.08h-1.6M207.4 263.52h1.6M358.5 263.52h-1.6M207.4 232.96h1.6M358.5 232.96h-1.6" stroke="#a3a3a3" stroke-width="1" fill="none"/>
<rect x="465.2" y="75.4" width="70.8" height="85.6" fill="#fff" stroke="#a3a3a3" stroke-width="1"/>
<line x1="467.8" y1="81.8" x2="496.0" y2="81.8" stroke="#3ef2f2" stroke-width="1.4"/>
<text x="498.2" y="84.8" font-size="8.3" font-weight="400" fill="#4a4a4a" stroke="#4a4a4a" stroke-width="0.22" text-anchor="start" textLength="30.0" lengthAdjust="spacingAndGlyphs">L-band HH</text>
<line x1="467.8" y1="91.6" x2="496.0" y2="91.6" stroke="#3c3cf0" stroke-width="1.4"/>
<text x="498.2" y="94.6" font-size="8.3" font-weight="400" fill="#4a4a4a" stroke="#4a4a4a" stroke-width="0.22" text-anchor="start" textLength="30.0" lengthAdjust="spacingAndGlyphs">L-band VV</text>
<line x1="467.8" y1="101.1" x2="496.0" y2="101.1" stroke="#ff4d4d" stroke-width="1.4"/>
<text x="498.2" y="104.1" font-size="8.3" font-weight="400" fill="#4a4a4a" stroke="#4a4a4a" stroke-width="0.22" text-anchor="start" textLength="30.0" lengthAdjust="spacingAndGlyphs">C-band VV</text>
<line x1="467.8" y1="110.6" x2="496.0" y2="110.6" stroke="#f046f0" stroke-width="1.4"/>
<text x="498.2" y="113.6" font-size="8.3" font-weight="400" fill="#4a4a4a" stroke="#4a4a4a" stroke-width="0.22" text-anchor="start" textLength="30.0" lengthAdjust="spacingAndGlyphs">X-band HH</text>
<line x1="467.8" y1="121.8" x2="496.0" y2="121.8" stroke="#0000ff" stroke-width="2.9"/>
<text x="498.2" y="124.8" font-size="8.3" font-weight="400" fill="#4a4a4a" stroke="#4a4a4a" stroke-width="0.22" text-anchor="start" textLength="25.5" lengthAdjust="spacingAndGlyphs">L-band m</text>
<text x="524.5" y="128.1" font-size="6.0" font-weight="400" fill="#4a4a4a" stroke="#4a4a4a" stroke-width="0.22" text-anchor="start" textLength="8.5" lengthAdjust="spacingAndGlyphs">DP</text>
<line x1="467.8" y1="134.8" x2="496.0" y2="134.8" stroke="#ff0000" stroke-width="2.9"/>
<text x="498.2" y="137.8" font-size="8.3" font-weight="400" fill="#4a4a4a" stroke="#4a4a4a" stroke-width="0.22" text-anchor="start" textLength="25.5" lengthAdjust="spacingAndGlyphs">C-band m</text>
<text x="524.5" y="141.1" font-size="6.0" font-weight="400" fill="#4a4a4a" stroke="#4a4a4a" stroke-width="0.22" text-anchor="start" textLength="8.5" lengthAdjust="spacingAndGlyphs">DP</text>
<line x1="467.8" y1="146.4" x2="496.0" y2="146.4" stroke="#7f7f7f" stroke-width="3.5"/>
<text x="498.2" y="149.4" font-size="8.3" font-weight="400" fill="#4a4a4a" stroke="#4a4a4a" stroke-width="0.22" text-anchor="start" textLength="30.0" lengthAdjust="spacingAndGlyphs">L-band Ps</text>
<line x1="467.8" y1="156.0" x2="496.0" y2="156.0" stroke="#000000" stroke-width="3.5"/>
<text x="498.2" y="159.0" font-size="8.3" font-weight="400" fill="#4a4a4a" stroke="#4a4a4a" stroke-width="0.22" text-anchor="start" textLength="30.0" lengthAdjust="spacingAndGlyphs">L-band Pc</text>
<line x1="429.00" y1="198.5" x2="429.00" y2="354.8" stroke="#e9e9e9" stroke-width="0.8"/>
<line x1="465.00" y1="198.5" x2="465.00" y2="354.8" stroke="#e9e9e9" stroke-width="0.8"/>
<line x1="501.00" y1="198.5" x2="501.00" y2="354.8" stroke="#e9e9e9" stroke-width="0.8"/>
<line x1="393.0" y1="323.54" x2="537.0" y2="323.54" stroke="#e9e9e9" stroke-width="0.8"/>
<line x1="393.0" y1="292.28" x2="537.0" y2="292.28" stroke="#e9e9e9" stroke-width="0.8"/>
<line x1="393.0" y1="261.02" x2="537.0" y2="261.02" stroke="#e9e9e9" stroke-width="0.8"/>
<line x1="393.0" y1="229.76" x2="537.0" y2="229.76" stroke="#e9e9e9" stroke-width="0.8"/>
<text x="390.20" y="357.80" font-size="8.5" font-weight="400" fill="#4a4a4a" stroke="#4a4a4a" stroke-width="0.22" text-anchor="end" textLength="9.4" lengthAdjust="spacingAndGlyphs">0.5</text>
<text x="390.20" y="326.54" font-size="8.5" font-weight="400" fill="#4a4a4a" stroke="#4a4a4a" stroke-width="0.22" text-anchor="end" textLength="9.4" lengthAdjust="spacingAndGlyphs">0.6</text>
<text x="390.20" y="295.28" font-size="8.5" font-weight="400" fill="#4a4a4a" stroke="#4a4a4a" stroke-width="0.22" text-anchor="end" textLength="9.4" lengthAdjust="spacingAndGlyphs">0.7</text>
<text x="390.20" y="264.02" font-size="8.5" font-weight="400" fill="#4a4a4a" stroke="#4a4a4a" stroke-width="0.22" text-anchor="end" textLength="9.4" lengthAdjust="spacingAndGlyphs">0.8</text>
<text x="390.20" y="232.76" font-size="8.5" font-weight="400" fill="#4a4a4a" stroke="#4a4a4a" stroke-width="0.22" text-anchor="end" textLength="9.4" lengthAdjust="spacingAndGlyphs">0.9</text>
<text x="390.20" y="201.50" font-size="8.5" font-weight="400" fill="#4a4a4a" stroke="#4a4a4a" stroke-width="0.22" text-anchor="end" textLength="4.0" lengthAdjust="spacingAndGlyphs">1</text>
<text x="392.20" y="366.0" font-size="8.5" font-weight="400" fill="#4a4a4a" stroke="#4a4a4a" stroke-width="0.22" text-anchor="middle" textLength="13.1" lengthAdjust="spacingAndGlyphs">Test</text>
<text x="393.00" y="377.3" font-size="8.5" font-weight="400" fill="#4a4a4a" stroke="#4a4a4a" stroke-width="0.22" text-anchor="middle" textLength="20.0" lengthAdjust="spacingAndGlyphs">Area 1</text>
<text x="428.20" y="366.0" font-size="8.5" font-weight="400" fill="#4a4a4a" stroke="#4a4a4a" stroke-width="0.22" text-anchor="middle" textLength="13.1" lengthAdjust="spacingAndGlyphs">Test</text>
<text x="429.00" y="377.3" font-size="8.5" font-weight="400" fill="#4a4a4a" stroke="#4a4a4a" stroke-width="0.22" text-anchor="middle" textLength="20.0" lengthAdjust="spacingAndGlyphs">Area 2</text>
<text x="464.20" y="366.0" font-size="8.5" font-weight="400" fill="#4a4a4a" stroke="#4a4a4a" stroke-width="0.22" text-anchor="middle" textLength="13.1" lengthAdjust="spacingAndGlyphs">Test</text>
<text x="465.00" y="377.3" font-size="8.5" font-weight="400" fill="#4a4a4a" stroke="#4a4a4a" stroke-width="0.22" text-anchor="middle" textLength="20.0" lengthAdjust="spacingAndGlyphs">Area 3</text>
<text x="500.20" y="366.0" font-size="8.5" font-weight="400" fill="#4a4a4a" stroke="#4a4a4a" stroke-width="0.22" text-anchor="middle" textLength="13.1" lengthAdjust="spacingAndGlyphs">Test</text>
<text x="501.00" y="377.3" font-size="8.5" font-weight="400" fill="#4a4a4a" stroke="#4a4a4a" stroke-width="0.22" text-anchor="middle" textLength="20.0" lengthAdjust="spacingAndGlyphs">Area 4</text>
<text x="536.20" y="366.0" font-size="8.5" font-weight="400" fill="#4a4a4a" stroke="#4a4a4a" stroke-width="0.22" text-anchor="middle" textLength="10.5" lengthAdjust="spacingAndGlyphs">Full</text>
<text x="537.00" y="377.3" font-size="8.5" font-weight="400" fill="#4a4a4a" stroke="#4a4a4a" stroke-width="0.22" text-anchor="middle" textLength="14.5" lengthAdjust="spacingAndGlyphs">Area</text>
<text x="397.00" y="210.50" font-size="9.1" font-weight="700" fill="#262626" stroke="#262626" stroke-width="0.3" text-anchor="start" textLength="51.9" lengthAdjust="spacingAndGlyphs">(f) AUC Values</text>
<text x="375.7" y="276.90" font-size="8.7" font-weight="400" fill="#4a4a4a" stroke="#4a4a4a" stroke-width="0.22" text-anchor="middle" textLength="83.6" lengthAdjust="spacingAndGlyphs" transform="rotate(-90 375.7 276.90)">Area Under Curve (AUC)</text>
<clipPath id="clipf"><rect x="393.0" y="198.5" width="144.00" height="156.30"/></clipPath>
<g clip-path="url(#clipf)" fill="none" stroke-linejoin="miter" stroke-miterlimit="3">
<polyline points="393.0,241.9 429.0,285.2 465.0,278.4 501.0,284.7 537.0,269.5" stroke="#000000" stroke-width="3.6"/>
<polyline points="393.0,283.7 429.0,307.0 465.0,300.0 501.0,306.9 537.0,304.0" stroke="#7f7f7f" stroke-width="3.4"/>
<polyline points="393.0,248.5 429.0,307.5 465.0,305.2 501.0,324.6 537.0,301.3" stroke="#3ef2f2" stroke-width="1.0"/>
<polyline points="393.0,252.4 429.0,308.2 465.0,309.4 501.0,336.3 537.0,297.8" stroke="#3c3cf0" stroke-width="1.0"/>
<polyline points="393.0,296.3 429.0,334.5 465.0,326.3 501.0,323.2 537.0,312.2" stroke="#ff4d4d" stroke-width="1.0"/>
<polyline points="393.0,268.8 429.0,302.5 465.0,308.7 501.0,297.5 537.0,302.9" stroke="#f046f0" stroke-width="1.0"/>
<polyline points="393.0,308.2 429.0,303.1 465.0,298.9 501.0,305.9 537.0,304.1" stroke="#0000ff" stroke-width="2.9"/>
<polyline points="393.0,314.5 429.0,328.5 465.0,302.9 501.0,301.7 537.0,316.9" stroke="#ff0000" stroke-width="2.9"/>
</g>
<text x="400.4" y="237.8" font-size="8.5" font-weight="400" fill="#333" stroke="#333" stroke-width="0.22" text-anchor="middle" textLength="13.5" lengthAdjust="spacingAndGlyphs">0.86</text>
<text x="432.2" y="279.0" font-size="8.5" font-weight="400" fill="#333" stroke="#333" stroke-width="0.22" text-anchor="middle" textLength="13.5" lengthAdjust="spacingAndGlyphs">0.72</text>
<text x="464.9" y="273.8" font-size="8.5" font-weight="400" fill="#333" stroke="#333" stroke-width="0.22" text-anchor="middle" textLength="13.5" lengthAdjust="spacingAndGlyphs">0.74</text>
<text x="500.8" y="279.5" font-size="8.5" font-weight="400" fill="#333" stroke="#333" stroke-width="0.22" text-anchor="middle" textLength="13.5" lengthAdjust="spacingAndGlyphs">0.72</text>
<text x="529.8" y="267.3" font-size="8.5" font-weight="400" fill="#333" stroke="#333" stroke-width="0.22" text-anchor="middle" textLength="13.5" lengthAdjust="spacingAndGlyphs">0.77</text>
<rect x="393.0" y="198.5" width="144.00" height="156.30" fill="none" stroke="#a3a3a3" stroke-width="1.1"/>
<path d="M429.00 354.8v-1.6M429.00 198.5v1.6M465.00 354.8v-1.6M465.00 198.5v1.6M501.00 354.8v-1.6M501.00 198.5v1.6M393.0 323.54h1.6M537.0 323.54h-1.6M393.0 292.28h1.6M537.0 292.28h-1.6M393.0 261.02h1.6M537.0 261.02h-1.6M393.0 229.76h1.6M537.0 229.76h-1.6" stroke="#a3a3a3" stroke-width="1" fill="none"/>
</svg></body></html>
